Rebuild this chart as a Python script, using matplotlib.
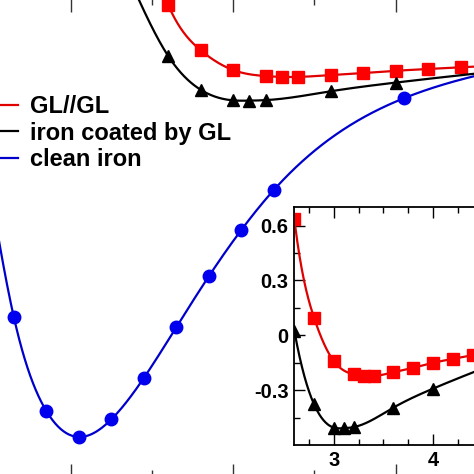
import numpy as np
import matplotlib
matplotlib.use('Agg')
import matplotlib.pyplot as plt
from matplotlib.ticker import MultipleLocator, FixedLocator, FixedFormatter

plt.rcParams['font.family'] = ['Liberation Sans', 'DejaVu Sans']
plt.rcParams['font.weight'] = 'bold'

# distance / energy values (first and last points lie outside the view)
gl_x = [2.4, 2.6, 2.8, 3.0, 3.2, 3.3, 3.4, 3.6, 3.8, 4.0, 4.2, 4.4, 4.6]
gl_y = [1.85, 0.637, 0.095, -0.142, -0.214, -0.224, -0.224, -0.202, -0.178, -0.151, -0.129, -0.109, -0.09]

coated_x = [2.35, 2.6, 2.8, 3.0, 3.1, 3.2, 3.6, 4.0, 4.8]
coated_y = [1.0, 0.026, -0.378, -0.505, -0.508, -0.502, -0.396, -0.292, -0.12]

iron_x = [1.45, 1.65, 1.85, 2.05, 2.25, 2.45, 2.65, 2.85, 3.05, 3.25, 4.05, 4.85]
iron_y = [-0.9, -3.10, -4.225, -4.536, -4.325, -3.83, -3.222, -2.612, -2.057, -1.578, -0.48, -0.06]

labels = ['GL//GL', 'iron coated by GL', 'clean iron']
line_colors = ['#e00000', 'black', '#0000cc']
marker_colors = ['#ff0000', 'black', '#0000ee']
markers = ['s', '^', 'o']
marker_sizes = [8, 8.5, 9]


def spline(xs, ys, n=600):
    # natural cubic spline, only used to draw the smooth connecting line
    x = np.asarray(xs, float)
    y = np.asarray(ys, float)
    h = np.diff(x)
    m = len(x)
    A = np.zeros((m, m))
    b = np.zeros(m)
    A[0, 0] = A[-1, -1] = 1
    for i in range(1, m - 1):
        A[i, i - 1] = h[i - 1]
        A[i, i] = 2 * (h[i - 1] + h[i])
        A[i, i + 1] = h[i]
        b[i] = 6 * ((y[i + 1] - y[i]) / h[i] - (y[i] - y[i - 1]) / h[i - 1])
    M = np.linalg.solve(A, b)
    xx = np.linspace(x[0], x[-1], n)
    k = np.clip(np.searchsorted(x, xx) - 1, 0, m - 2)
    t0 = x[k + 1] - xx
    t1 = xx - x[k]
    yy = ((M[k] * t0**3 + M[k + 1] * t1**3) / (6 * h[k])
          + (y[k] / h[k] - M[k] * h[k] / 6) * t0
          + (y[k + 1] / h[k] - M[k + 1] * h[k] / 6) * t1)
    return xx, yy


fig = plt.figure(figsize=(4.74, 4.74), dpi=100)

# main axes: wider than the visible area, the picture is a crop of it
ax = fig.add_axes([-10.55 / 474, -1.7 / 474, 487.5 / 474, 5.71 * 83.5 / 474])
series = [(gl_x, gl_y), (coated_x, coated_y), (iron_x, iron_y)]
handles = []
for (xs, ys), lab, lc, mc, mk, ms in zip(series, labels, line_colors, marker_colors, markers, marker_sizes):
    sx, sy = spline(xs, ys)
    h, = ax.plot(sx, sy, color=lc, lw=1.6, label=lab)
    ax.plot(xs, ys, mk, color=mc, ms=ms, mec=mc)
    handles.append(h)
ax.set_xlim(1.5, 4.5)
ax.set_ylim(-5, 0.71)
ax.xaxis.set_major_locator(MultipleLocator(1))
ax.xaxis.set_minor_locator(MultipleLocator(0.5))
ax.tick_params(which='both', direction='in', top=True, bottom=True, left=False, right=False,
               labelbottom=False, labelleft=False, width=1.0, color='#333333')
ax.tick_params(which='major', length=9)
ax.tick_params(which='minor', length=4.5)

# inset
axi = fig.add_axes([294.3 / 474, 29 / 474, 198 / 474, 237.7 / 474])
for (xs, ys), lc, mc, mk, ms in zip(series[:2], line_colors, marker_colors, markers, marker_sizes):
    sx, sy = spline(xs, ys)
    axi.plot(sx, sy, color=lc, lw=1.6)
    axi.plot(xs, ys, mk, color=mc, ms=ms, mec=mc)
axi.set_xlim(2.6, 4.6)
axi.set_ylim(-0.6, 0.7)
axi.xaxis.set_major_locator(FixedLocator([3, 4]))
axi.xaxis.set_major_formatter(FixedFormatter(['3', '4']))
axi.xaxis.set_minor_locator(MultipleLocator(0.25))
axi.yaxis.set_major_locator(FixedLocator([-0.3, 0, 0.3, 0.6]))
axi.yaxis.set_major_formatter(FixedFormatter(['-0.3', '0', '0.3', '0.6']))
axi.yaxis.set_minor_locator(FixedLocator([-0.45, -0.15, 0.15, 0.45]))
axi.tick_params(which='both', direction='in', top=True, bottom=True, left=True, right=False,
                width=1.0, labelsize=14.5, pad=4)
axi.tick_params(which='major', length=8)
axi.tick_params(which='minor', length=4)
for s in axi.spines.values():
    s.set_linewidth(1.3)

fig.legend(handles=handles, loc='center left', bbox_to_anchor=(-27 / 474, (474 - 133) / 474),
           frameon=False, fontsize=17, handlelength=1.9, handletextpad=0.52,
           labelspacing=0.15, borderpad=0, borderaxespad=0)

fig.savefig('out.png', dpi=100)
